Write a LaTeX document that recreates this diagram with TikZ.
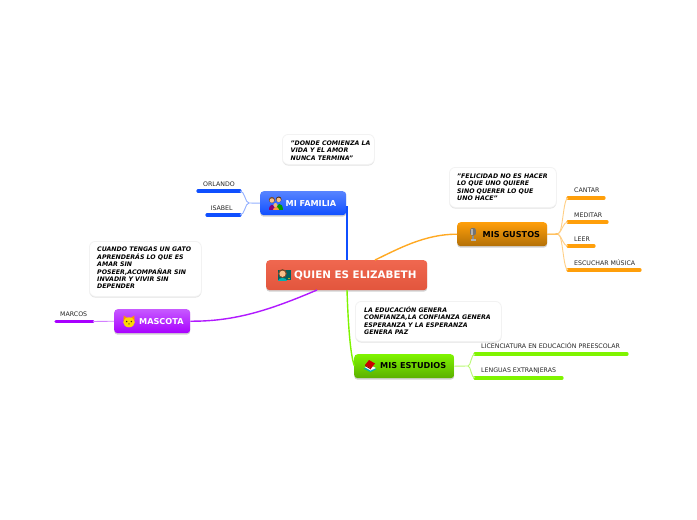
\documentclass[tikz,border=0pt]{standalone}
\usepackage{fontspec}
\setmainfont{DejaVu Sans}
\usetikzlibrary{shadows,calc,positioning}
\definecolor{cred}{HTML}{EE5A40}
\definecolor{cblue}{HTML}{0F4FFF}
\definecolor{cpurple}{HTML}{A800FF}
\definecolor{corange}{HTML}{FF9F0A}
\definecolor{cgreen}{HTML}{7FF400}
\definecolor{skin}{HTML}{F5C08A}
\definecolor{hairb}{HTML}{7A4A2A}
\tikzset{
  x=1pt,y=-1pt,
  softshadow/.style={drop shadow={shadow xshift=0pt,shadow yshift=-1.5pt,opacity=.25,fill=black!70}},
  topic/.style={rounded corners=3.5pt,inner sep=0pt,anchor=north west,softshadow,align=center},
  note/.style={rounded corners=6pt,fill=white,draw=black!5,line width=.8pt,anchor=north west,inner sep=0pt,
    drop shadow={shadow xshift=0pt,shadow yshift=-1.2pt,opacity=.16,fill=black!70}},
  notetext/.style={anchor=north west,inner sep=0pt,align=left,font=\fontsize{6.25}{7.4}\selectfont\bfseries\itshape,text=black},
  leaftext/.style={anchor=south west,inner sep=0pt,font=\fontsize{6.25}{7}\selectfont,text=black!85},
  leafbar/.style={line width=3.2pt,line cap=round},
  branch/.style={line width=1.4pt},
  twig/.style={line width=.9pt},
  toptext/.style={font=\fontsize{8.15}{9}\selectfont\bfseries}
}
\begin{document}
\begin{tikzpicture}
\useasboundingbox[fill=white] (0,0) rectangle (697,520);

% notes
\node[note,minimum width=92pt,minimum height=30pt] (nfam) at (282,134) {};
\node[note,minimum width=107pt,minimum height=40pt] (ngus) at (449,167) {};
\node[note,minimum width=112pt,minimum height=55pt] (nmas) at (89,241) {};
\node[note,minimum width=146pt,minimum height=40pt] (nest) at (355,301) {};
\node[notetext] (tfam) at (290.5,140.5) {"DONDE COMIENZA LA\\VIDA Y EL AMOR\\NUNCA TERMINA"};
\node[notetext] (tgus) at (457,173.5) {"FELICIDAD NO ES HACER\\LO QUE UNO QUIERE\\SINO QUERER LO QUE\\UNO HACE"};
\node[notetext] (tmas) at (97,247) {CUANDO TENGAS UN GATO\\APRENDERÁS LO QUE ES\\AMAR SIN\\POSEER,ACOMPAÑAR SIN\\INVADIR Y VIVIR SIN\\DEPENDER};
\node[notetext] (test) at (364,306.5) {LA EDUCACIÓN GENERA\\CONFIANZA,LA CONFIANZA GENERA\\ESPERANZA Y LA ESPERANZA\\GENERA PAZ};

% main topics
\node[topic,minimum width=161pt,minimum height=30pt,top color=cred!92!white,bottom color=cred!95!black] (main) at (266,260) {};
\node[topic,minimum width=86pt,minimum height=24pt,top color=cblue!70!white,bottom color=cblue] (fam) at (260,191) {};
\node[topic,minimum width=90pt,minimum height=24pt,top color=corange,bottom color=corange!70!black] (gus) at (457,222) {};
\node[topic,minimum width=76pt,minimum height=24pt,top color=cpurple!65!white,bottom color=cpurple] (mas) at (114,309) {};
\node[topic,minimum width=100pt,minimum height=24pt,top color=cgreen,bottom color=cgreen!72!black] (est) at (354,354) {};

\node[inner sep=0pt,text=white,font=\fontsize{10.35}{11}\selectfont\bfseries,anchor=west] (lmain) at (294,275) {QUIEN ES ELIZABETH};
\node[inner sep=0pt,text=white,toptext,anchor=west] (lfam) at (285.5,203.5) {MI FAMILIA};
\node[inner sep=0pt,text=black,toptext,anchor=west] (lgus) at (482.5,234.5) {MIS GUSTOS};
\node[inner sep=0pt,text=white,toptext,anchor=west] (lmas) at (139,322) {MASCOTA};
\node[inner sep=0pt,text=black,toptext,anchor=west] (lest) at (380,366) {MIS ESTUDIOS};

% icon: teacher
\begin{scope}[shift={(284,275)}]
  \fill[teal!75!black] (-6.5,-5) rectangle (7,5);
  \fill[hairb] (-1.5,-1.5) circle [radius=4.4];
  \fill[skin] (-1.5,-1.2) circle [radius=3.1];
  \fill[teal!60!cyan] (-6,6) .. controls (-6,1.5) and (3,1.5) .. (3,6) -- cycle;
  \fill[yellow!80!orange] (5,3.6) circle [radius=.8];
\end{scope}
% icon: family
\begin{scope}[shift={(275.5,203.5)}]
  \fill[purple!70!blue] (-7,6) .. controls (-7,-1) and (-1,-1) .. (-1,6) -- cycle;
  \fill[green!60!black] (0,6) .. controls (0,-2) and (7,-2) .. (7,6) -- cycle;
  \fill[hairb] (-3.6,-3.6) circle [radius=3];
  \fill[skin] (-3.6,-3) circle [radius=2.2];
  \fill[hairb!70!black] (3.2,-4.2) circle [radius=2.8];
  \fill[skin] (3.2,-3.6) circle [radius=2.2];
  \fill[orange!70!pink] (-3,6.5) .. controls (-3,2) and (3,2) .. (3,6.5) -- cycle;
  \fill[skin!85!brown] (0,1.6) circle [radius=2.1];
\end{scope}
% icon: mic
\begin{scope}[shift={(473,234)}]
  \fill[black!55,rounded corners=2pt] (-2.8,-6) rectangle (2.8,1.5);
  \fill[black!30] (-1.6,-5) rectangle (.2,.5);
  \draw[black!45,line width=1.2pt] (0,1.5) -- (0,5.5);
  \draw[black!30,line width=1.2pt] (-2.5,6) -- (2.5,6);
\end{scope}
% icon: cat
\begin{scope}[shift={(129,321.5)}]
  \fill[orange!85!yellow] (-5.6,-1) -- (-5.3,-6) -- (-1.5,-3.5) -- (1.5,-3.5) -- (5.3,-6) -- (5.6,-1) -- cycle;
  \fill[yellow!75!orange] (0,.8) ellipse [x radius=5.8,y radius=5];
  \fill[hairb!60!black] (-2.3,0) circle [radius=.8] (2.3,0) circle [radius=.8];
  \fill[hairb!60!black] (-1,2.2) -- (1,2.2) -- (0,3.2) -- cycle;
\end{scope}
% icon: books
\begin{scope}[shift={(370,366)}]
  \fill[teal!60!cyan] (-6.5,2.5) -- (0,.3) -- (6.5,3) -- (.5,6) -- cycle;
  \fill[white] (-5.5,1) -- (0,-1) -- (6,2) -- (.5,4.5) -- cycle;
  \fill[red!80!black] (-5,-1) -- (-1,-6) -- (5,-2.5) -- (1,2.5) -- cycle;
  \fill[red!55!black] (-5,-1) -- (1,2.5) -- (1,3.5) -- (-5,0) -- cycle;
\end{scope}

% leaves
\node[leaftext] (orl) at (203,186.7) {ORLANDO};
\node[leaftext] (isa) at (210.5,211.2) {ISABEL};
\node[leaftext] (mar) at (60,316.7) {MARCOS};
\node[leaftext] (can) at (574,193) {CANTAR};
\node[leaftext] (med) at (574,218) {MEDITAR};
\node[leaftext] (lee) at (574,242) {LEER};
\node[leaftext] (esc) at (574,266) {ESCUCHAR MÚSICA};
\node[leaftext] (lic) at (481,348.7) {LICENCIATURA EN EDUCACIÓN PREESCOLAR};
\node[leaftext] (len) at (481,374) {LENGUAS EXTRANJERAS};

% bars (ends)
\coordinate (orlA) at (240,191); \coordinate (orlB) at (198,191);
\coordinate (isaA) at (240,215); \coordinate (isaB) at (207,215);
\coordinate (marA) at (93,321.5); \coordinate (marB) at (56,321.5);
\coordinate (canA) at (568,198); \coordinate (canB) at (604,198);
\coordinate (medA) at (568,222); \coordinate (medB) at (607,222);
\coordinate (leeA) at (568,246); \coordinate (leeB) at (594,246);
\coordinate (escA) at (568,270); \coordinate (escB) at (640,270);
\coordinate (licA) at (475,354); \coordinate (licB) at (627,354);
\coordinate (lenA) at (475,378); \coordinate (lenB) at (562,378);

\draw[leafbar,cblue] (orlA) -- (orlB);
\draw[leafbar,cblue] (isaA) -- (isaB);
\draw[leafbar,cpurple] (marA) -- (marB);
\draw[leafbar,corange] (canA) -- (canB);
\draw[leafbar,corange] (medA) -- (medB);
\draw[leafbar,corange] (leeA) -- (leeB);
\draw[leafbar,corange] (escA) -- (escB);
\draw[leafbar,cgreen] (licA) -- (licB);
\draw[leafbar,cgreen] (lenA) -- (lenB);

% twigs
\coordinate (hfam) at (249,203);
\draw[twig,cblue!45!white] (fam.west) -- (hfam) .. controls (245,203) and (245,191) .. (orlA);
\draw[twig,cblue!45!white] (hfam) .. controls (245,203) and (245,215) .. (isaA);
\draw[twig,cpurple!50!white] (mas.west) -- (marA);
\coordinate (hgus) at (558,234);
\draw[line width=1.1pt,corange] (gus.east) -- (hgus);
\draw[twig,corange!50!white] (hgus) .. controls (563,234) and (563,198) .. (canA);
\draw[twig,corange!50!white] (hgus) .. controls (563,230) and (563,222) .. (medA);
\draw[twig,corange!50!white] (hgus) .. controls (563,238) and (563,246) .. (leeA);
\draw[twig,corange!50!white] (hgus) .. controls (563,234) and (563,270) .. (escA);
\coordinate (hest) at (468,366);
\draw[twig,cgreen!55!white] (est.east) -- (hest) .. controls (471,366) and (471,354) .. (licA);
\draw[twig,cgreen!55!white] (hest) .. controls (471,366) and (471,378) .. (lenA);

% branches
\coordinate (mfam) at (347,260);
\coordinate (mgus) at (375,260);
\coordinate (mmas) at (317,290);
\coordinate (mest) at (347,290);
\coordinate (fres) at (347,206);
\coordinate (esws) at (354.5,366);
\draw[branch,cblue] (fres) -- (mfam);
\draw[branch,corange!90!white] (mgus) .. controls (398,249) and (425,234) .. (gus.west);
\draw[branch,cpurple!90!white] (mmas) .. controls (270,310) and (235,321.5) .. (mas.east);
\draw[branch,cgreen] (mest) .. controls (348,320) and (350,355) .. (esws);
\end{tikzpicture}
\end{document}
